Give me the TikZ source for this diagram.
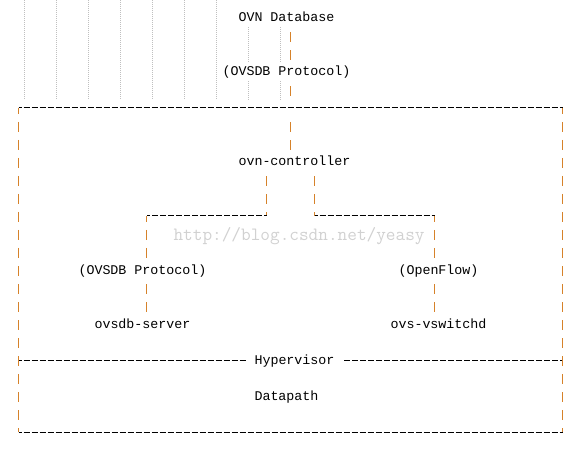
\documentclass[tikz,border=0pt]{standalone}
\usepackage{fontspec}
\newfontfamily\codefont{Liberation Mono}
\definecolor{barorange}{RGB}{214,130,42}

\begin{document}
\begin{tikzpicture}[x = 1pt, y = -1pt % one unit per pixel, y going down
            ]

            \tikzstyle{txt}=[font = \codefont\fontsize{13.33pt}{18pt}\selectfont,
            fill = white, inner sep = 0pt, minimum height = 18pt,
            text height = 10pt, text depth = 2pt]
            \tikzstyle{hbar}=[black, line width = 1pt,
            dash pattern = on 6pt off 2pt, dash phase = 3pt]
            \tikzstyle{vbar}=[barorange, line width = 1.6pt,
            dash pattern = on 10pt off 8pt, dash phase = 13pt]
            \tikzstyle{cbar}=[vbar, dash phase = 4pt] % starts at a corner
            \tikzstyle{tabline}=[black!25, line width = 1pt,
            dash pattern = on 1pt off 1pt]

            \useasboundingbox (0,0) rectangle (581,449);

            % dotted guides at the top
            \foreach \x in {24,56,...,216} \draw[tabline] (\x,0) -- (\x,100);
            \foreach \x in {248,280} \draw[tabline] (\x,27) -- (\x,100);

            \node[txt] (db) at (286.5,18) {OVN Database};
            \node[txt] (proto) at (286.5,72) {(OVSDB Protocol)};
            \node[txt] (ctl) at (294.5,162) {ovn-controller};
            \node[txt] (sproto) at (142.5,270) {(OVSDB Protocol)};
            \node[txt] (srv) at (142.5,324) {ovsdb-server};
            \node[txt] (oproto) at (438.5,270) {(OpenFlow)};
            \node[txt] (vsw) at (438.5,324) {ovs-vswitchd};
            \node[txt, inner xsep = 8pt] (hv) at (294.5,360) {Hypervisor};
            \node[txt] (dp) at (286.5,396) {Datapath};

            \node[anchor = base west, text = black!18,
            font = \ttfamily\fontsize{18.75pt}{20pt}\selectfont] (wm)
            at (170,240.5) {http://blog.csdn.net/yeasy};

            \coordinate (tl) at (18.5,108); \coordinate (tr) at (562.5,108);
            \coordinate (ml) at (18.5,360); \coordinate (mr) at (562.5,360);
            \coordinate (bl) at (18.5,432); \coordinate (br) at (562.5,432);
            \coordinate (la) at (146.5,216); \coordinate (lb) at (266.5,216);
            \coordinate (ra) at (314.5,216); \coordinate (rb) at (434.5,216);

            % outer box
            \draw[hbar] (tl) -- (tr); \draw[hbar] (bl) -- (br);
            \draw[hbar] (ml) -- (hv.west); \draw[hbar] (mr) -- (hv.east);
            \draw[cbar] (tl) -- (ml); \draw[cbar] (ml) -- (bl);
            \draw[cbar] (tr) -- (mr); \draw[cbar] (mr) -- (br);

            % database down to the controller
            \draw[vbar] ([xshift = 4pt]db.south) -- ([xshift = 4pt]proto.north);
            \draw[vbar, dash pattern = on 10pt off 26pt on 10pt off 8pt on 10pt
            off 8pt, dash phase = 67pt] ([xshift = 4pt]proto.south) --
            ([xshift = -4pt]ctl.north);

            % controller branches
            \draw[vbar] (ctl.south -| lb) -- (lb); \draw[vbar] (ctl.south -| ra) -- (ra);
            \draw[hbar] (lb) -- (la); \draw[hbar] (ra) -- (rb);
            \draw[cbar] (la) -- (sproto.north -| la);
            \draw[vbar] (sproto.south -| la) -- (srv.north -| la);
            \draw[cbar] (rb) -- (oproto.north -| rb);
            \draw[vbar] (oproto.south -| rb) -- (vsw.north -| rb);
        \end{tikzpicture}
\end{document}
